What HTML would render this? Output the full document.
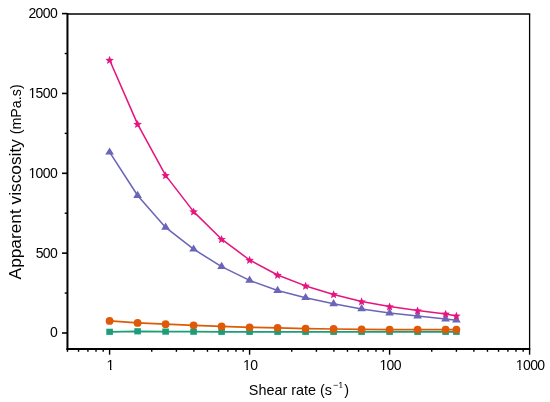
<!DOCTYPE html>
<html><head><meta charset="utf-8"><style>
html,body{margin:0;padding:0;background:#fff;}
body{width:550px;height:402px;overflow:hidden;}
svg{display:block;}
</style></head><body>
<svg width="550" height="402" viewBox="0 0 550 402">
<g stroke="#000" fill="none" stroke-linecap="butt">
<line x1="67.46" y1="14.00" x2="530.25" y2="14.00" stroke-width="1.4"/>
<line x1="529.60" y1="14.00" x2="529.60" y2="349.00" stroke-width="1.3"/>
<line x1="67.46" y1="12.90" x2="67.46" y2="350.00" stroke-width="2"/>
<line x1="66.46" y1="349.00" x2="530.20" y2="349.00" stroke-width="2"/>
<line x1="62" y1="333.00" x2="67.46" y2="333.00" stroke-width="1.6"/>
<line x1="62" y1="253.15" x2="67.46" y2="253.15" stroke-width="1.6"/>
<line x1="62" y1="173.30" x2="67.46" y2="173.30" stroke-width="1.6"/>
<line x1="62" y1="93.45" x2="67.46" y2="93.45" stroke-width="1.6"/>
<line x1="62" y1="13.60" x2="67.46" y2="13.60" stroke-width="1.6"/>
<line x1="64.7" y1="293.07" x2="67.46" y2="293.07" stroke-width="1.4"/>
<line x1="64.7" y1="213.22" x2="67.46" y2="213.22" stroke-width="1.4"/>
<line x1="64.7" y1="133.38" x2="67.46" y2="133.38" stroke-width="1.4"/>
<line x1="64.7" y1="53.52" x2="67.46" y2="53.52" stroke-width="1.4"/>
<line x1="109.60" y1="349.00" x2="109.60" y2="354.7" stroke-width="1.4"/>
<line x1="249.60" y1="349.00" x2="249.60" y2="354.7" stroke-width="1.4"/>
<line x1="389.60" y1="349.00" x2="389.60" y2="354.7" stroke-width="1.4"/>
<line x1="529.60" y1="349.00" x2="529.60" y2="354.7" stroke-width="1.4"/>
<line x1="67.46" y1="349.00" x2="67.46" y2="351.8" stroke-width="1.4"/>
<line x1="78.54" y1="349.00" x2="78.54" y2="351.8" stroke-width="1.4"/>
<line x1="87.91" y1="349.00" x2="87.91" y2="351.8" stroke-width="1.4"/>
<line x1="96.03" y1="349.00" x2="96.03" y2="351.8" stroke-width="1.4"/>
<line x1="103.19" y1="349.00" x2="103.19" y2="351.8" stroke-width="1.4"/>
<line x1="151.74" y1="349.00" x2="151.74" y2="351.8" stroke-width="1.4"/>
<line x1="176.40" y1="349.00" x2="176.40" y2="351.8" stroke-width="1.4"/>
<line x1="193.89" y1="349.00" x2="193.89" y2="351.8" stroke-width="1.4"/>
<line x1="207.46" y1="349.00" x2="207.46" y2="351.8" stroke-width="1.4"/>
<line x1="218.54" y1="349.00" x2="218.54" y2="351.8" stroke-width="1.4"/>
<line x1="227.91" y1="349.00" x2="227.91" y2="351.8" stroke-width="1.4"/>
<line x1="236.03" y1="349.00" x2="236.03" y2="351.8" stroke-width="1.4"/>
<line x1="243.19" y1="349.00" x2="243.19" y2="351.8" stroke-width="1.4"/>
<line x1="291.74" y1="349.00" x2="291.74" y2="351.8" stroke-width="1.4"/>
<line x1="316.40" y1="349.00" x2="316.40" y2="351.8" stroke-width="1.4"/>
<line x1="333.89" y1="349.00" x2="333.89" y2="351.8" stroke-width="1.4"/>
<line x1="347.46" y1="349.00" x2="347.46" y2="351.8" stroke-width="1.4"/>
<line x1="358.54" y1="349.00" x2="358.54" y2="351.8" stroke-width="1.4"/>
<line x1="367.91" y1="349.00" x2="367.91" y2="351.8" stroke-width="1.4"/>
<line x1="376.03" y1="349.00" x2="376.03" y2="351.8" stroke-width="1.4"/>
<line x1="383.19" y1="349.00" x2="383.19" y2="351.8" stroke-width="1.4"/>
<line x1="431.74" y1="349.00" x2="431.74" y2="351.8" stroke-width="1.4"/>
<line x1="456.40" y1="349.00" x2="456.40" y2="351.8" stroke-width="1.4"/>
<line x1="473.89" y1="349.00" x2="473.89" y2="351.8" stroke-width="1.4"/>
<line x1="487.46" y1="349.00" x2="487.46" y2="351.8" stroke-width="1.4"/>
<line x1="498.54" y1="349.00" x2="498.54" y2="351.8" stroke-width="1.4"/>
<line x1="507.91" y1="349.00" x2="507.91" y2="351.8" stroke-width="1.4"/>
<line x1="516.03" y1="349.00" x2="516.03" y2="351.8" stroke-width="1.4"/>
<line x1="523.19" y1="349.00" x2="523.19" y2="351.8" stroke-width="1.4"/>
</g>
<polyline points="109.60,331.80 137.60,331.30 165.60,331.60 193.60,331.70 221.60,331.80 249.60,331.80 277.60,331.80 305.60,331.80 333.60,331.80 361.60,331.80 389.60,331.80 417.60,331.80 445.60,331.80 456.40,331.80" fill="none" stroke="#1B9E77" stroke-width="1.7" stroke-linejoin="round"/>
<g fill="#1B9E77">
<rect x="106.30" y="328.70" width="6.6" height="6.2"/>
<rect x="134.30" y="328.20" width="6.6" height="6.2"/>
<rect x="162.30" y="328.50" width="6.6" height="6.2"/>
<rect x="190.30" y="328.60" width="6.6" height="6.2"/>
<rect x="218.30" y="328.70" width="6.6" height="6.2"/>
<rect x="246.30" y="328.70" width="6.6" height="6.2"/>
<rect x="274.30" y="328.70" width="6.6" height="6.2"/>
<rect x="302.30" y="328.70" width="6.6" height="6.2"/>
<rect x="330.30" y="328.70" width="6.6" height="6.2"/>
<rect x="358.30" y="328.70" width="6.6" height="6.2"/>
<rect x="386.30" y="328.70" width="6.6" height="6.2"/>
<rect x="414.30" y="328.70" width="6.6" height="6.2"/>
<rect x="442.30" y="328.70" width="6.6" height="6.2"/>
<rect x="453.10" y="328.70" width="6.6" height="6.2"/>
</g>
<polyline points="109.60,320.90 137.60,322.90 165.60,324.20 193.60,325.30 221.60,326.40 249.60,327.30 277.60,327.80 305.60,328.60 333.60,329.00 361.60,329.30 389.60,329.60 417.60,329.60 445.60,329.60 456.40,329.60" fill="none" stroke="#DE5A08" stroke-width="1.7" stroke-linejoin="round"/>
<g fill="#DE5A08">
<circle cx="109.60" cy="320.90" r="3.9"/>
<circle cx="137.60" cy="322.90" r="3.9"/>
<circle cx="165.60" cy="324.20" r="3.9"/>
<circle cx="193.60" cy="325.30" r="3.9"/>
<circle cx="221.60" cy="326.40" r="3.9"/>
<circle cx="249.60" cy="327.30" r="3.9"/>
<circle cx="277.60" cy="327.80" r="3.9"/>
<circle cx="305.60" cy="328.60" r="3.9"/>
<circle cx="333.60" cy="329.00" r="3.9"/>
<circle cx="361.60" cy="329.30" r="3.9"/>
<circle cx="389.60" cy="329.60" r="3.9"/>
<circle cx="417.60" cy="329.60" r="3.9"/>
<circle cx="445.60" cy="329.60" r="3.9"/>
<circle cx="456.40" cy="329.60" r="3.9"/>
</g>
<polyline points="109.60,152.20 137.60,195.50 165.60,227.40 193.60,249.20 221.60,266.60 249.60,280.40 277.60,290.60 305.60,297.70 333.60,303.80 361.60,308.90 389.60,313.00 417.60,316.10 445.60,319.00 456.40,320.20" fill="none" stroke="#6A65B8" stroke-width="1.55" stroke-linejoin="round"/>
<g fill="#6A65B8">
<polygon points="109.60,147.40 113.95,154.60 105.25,154.60"/>
<polygon points="137.60,190.70 141.95,197.90 133.25,197.90"/>
<polygon points="165.60,222.60 169.95,229.80 161.25,229.80"/>
<polygon points="193.60,244.40 197.95,251.60 189.25,251.60"/>
<polygon points="221.60,261.80 225.95,269.00 217.25,269.00"/>
<polygon points="249.60,275.60 253.95,282.80 245.25,282.80"/>
<polygon points="277.60,285.80 281.95,293.00 273.25,293.00"/>
<polygon points="305.60,292.90 309.95,300.10 301.25,300.10"/>
<polygon points="333.60,299.00 337.95,306.20 329.25,306.20"/>
<polygon points="361.60,304.10 365.95,311.30 357.25,311.30"/>
<polygon points="389.60,308.20 393.95,315.40 385.25,315.40"/>
<polygon points="417.60,311.30 421.95,318.50 413.25,318.50"/>
<polygon points="445.60,314.20 449.95,321.40 441.25,321.40"/>
<polygon points="456.40,315.40 460.75,322.60 452.05,322.60"/>
</g>
<polyline points="109.60,60.00 137.60,124.10 165.60,175.40 193.60,211.60 221.60,239.20 249.60,260.00 277.60,275.00 305.60,285.90 333.60,294.40 361.60,301.50 389.60,306.60 417.60,310.60 445.60,313.90 456.40,315.90" fill="none" stroke="#E5157F" stroke-width="1.55" stroke-linejoin="round"/>
<g fill="#E5157F">
<polygon points="109.60,55.80 110.78,58.68 113.88,58.91 111.50,60.92 112.25,63.94 109.60,62.30 106.95,63.94 107.70,60.92 105.32,58.91 108.42,58.68"/>
<polygon points="137.60,119.90 138.78,122.78 141.88,123.01 139.50,125.02 140.25,128.04 137.60,126.40 134.95,128.04 135.70,125.02 133.32,123.01 136.42,122.78"/>
<polygon points="165.60,171.20 166.78,174.08 169.88,174.31 167.50,176.32 168.25,179.34 165.60,177.70 162.95,179.34 163.70,176.32 161.32,174.31 164.42,174.08"/>
<polygon points="193.60,207.40 194.78,210.28 197.88,210.51 195.50,212.52 196.25,215.54 193.60,213.90 190.95,215.54 191.70,212.52 189.32,210.51 192.42,210.28"/>
<polygon points="221.60,235.00 222.78,237.88 225.88,238.11 223.50,240.12 224.25,243.14 221.60,241.50 218.95,243.14 219.70,240.12 217.32,238.11 220.42,237.88"/>
<polygon points="249.60,255.80 250.78,258.68 253.88,258.91 251.50,260.92 252.25,263.94 249.60,262.30 246.95,263.94 247.70,260.92 245.32,258.91 248.42,258.68"/>
<polygon points="277.60,270.80 278.78,273.68 281.88,273.91 279.50,275.92 280.25,278.94 277.60,277.30 274.95,278.94 275.70,275.92 273.32,273.91 276.42,273.68"/>
<polygon points="305.60,281.70 306.78,284.58 309.88,284.81 307.50,286.82 308.25,289.84 305.60,288.20 302.95,289.84 303.70,286.82 301.32,284.81 304.42,284.58"/>
<polygon points="333.60,290.20 334.78,293.08 337.88,293.31 335.50,295.32 336.25,298.34 333.60,296.70 330.95,298.34 331.70,295.32 329.32,293.31 332.42,293.08"/>
<polygon points="361.60,297.30 362.78,300.18 365.88,300.41 363.50,302.42 364.25,305.44 361.60,303.80 358.95,305.44 359.70,302.42 357.32,300.41 360.42,300.18"/>
<polygon points="389.60,302.40 390.78,305.28 393.88,305.51 391.50,307.52 392.25,310.54 389.60,308.90 386.95,310.54 387.70,307.52 385.32,305.51 388.42,305.28"/>
<polygon points="417.60,306.40 418.78,309.28 421.88,309.51 419.50,311.52 420.25,314.54 417.60,312.90 414.95,314.54 415.70,311.52 413.32,309.51 416.42,309.28"/>
<polygon points="445.60,309.70 446.78,312.58 449.88,312.81 447.50,314.82 448.25,317.84 445.60,316.20 442.95,317.84 443.70,314.82 441.32,312.81 444.42,312.58"/>
<polygon points="456.40,311.70 457.57,314.58 460.68,314.81 458.30,316.82 459.04,319.84 456.40,318.20 453.75,319.84 454.49,316.82 452.12,314.81 455.22,314.58"/>
</g>
<g font-family="Liberation Sans, Arial, sans-serif" font-size="14" letter-spacing="-0.6" fill="#000" text-anchor="end">
<text x="57.2" y="337.40">0</text>
<text x="57.2" y="257.55">500</text>
<text x="57.2" y="177.70">1000</text>
<text x="57.2" y="97.85">1500</text>
<text x="57.2" y="18.00">2000</text>
</g>
<g font-family="Liberation Sans, Arial, sans-serif" font-size="14" letter-spacing="-0.6" fill="#000" text-anchor="middle">
<text x="110.20" y="369.6">1</text>
<text x="250.20" y="369.6">10</text>
<text x="390.20" y="369.6">100</text>
<text x="530.20" y="369.6">1000</text>
</g>
<g font-family="Liberation Sans, Arial, sans-serif" fill="#000"><text x="248.85" y="395" font-size="14.4">Shear rate (s</text><text x="333.0" y="388.3" font-size="9">−1</text><text x="344.3" y="395" font-size="14.4">)</text></g>
<text transform="translate(20.7 279.4) rotate(-90)" font-family="Liberation Sans, Arial, sans-serif" font-size="17.3" fill="#000">Apparent viscosity <tspan font-size="14.3">(mPa.s)</tspan></text>
<g fill="#fff"><rect x="28.92" y="176.30" width="2.93" height="2.00"/><rect x="33.33" y="176.30" width="2.82" height="2.00"/><rect x="28.92" y="96.45" width="2.93" height="2.00"/><rect x="33.33" y="96.45" width="2.82" height="2.00"/><rect x="107.07" y="368.20" width="2.93" height="2.00"/><rect x="111.48" y="368.20" width="2.82" height="2.00"/><rect x="243.48" y="368.20" width="2.93" height="2.00"/><rect x="247.89" y="368.20" width="2.82" height="2.00"/><rect x="379.89" y="368.20" width="2.93" height="2.00"/><rect x="384.30" y="368.20" width="2.82" height="2.00"/><rect x="516.29" y="368.20" width="2.93" height="2.00"/><rect x="520.70" y="368.20" width="2.82" height="2.00"/><rect x="338.34" y="387.28" width="2.06" height="1.62"/><rect x="341.43" y="387.28" width="1.99" height="1.62"/></g>
</svg>
</body></html>
